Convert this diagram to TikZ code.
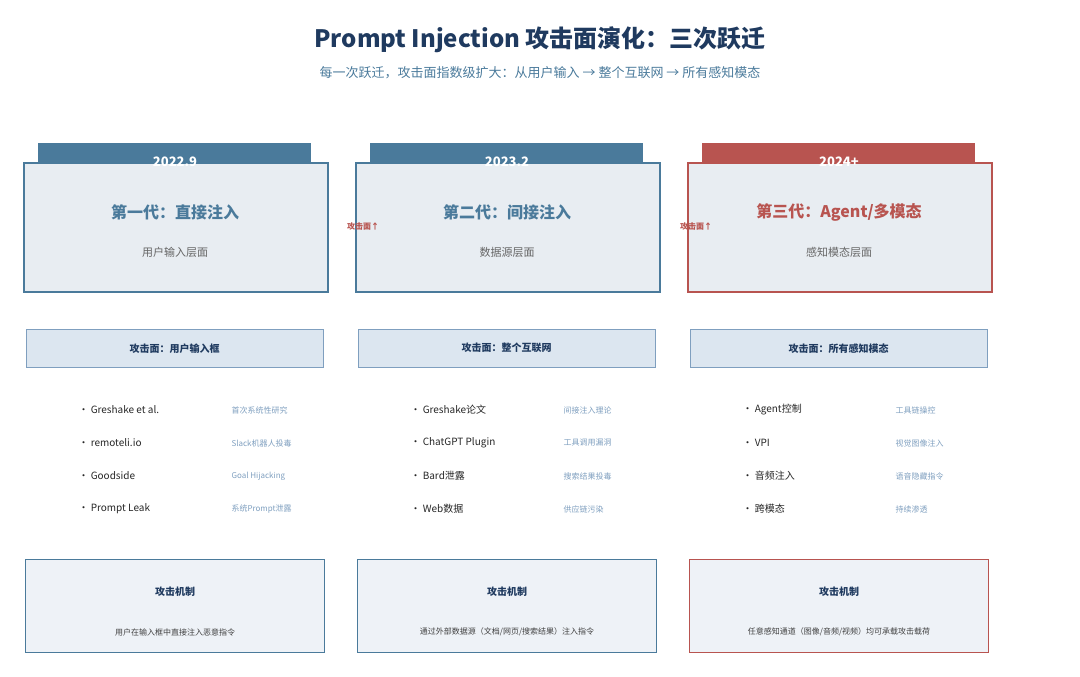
\documentclass[tikz,border=0pt]{standalone}
\usepackage{fontspec}
\setmainfont{Noto Sans CJK SC}
\usetikzlibrary{positioning}
\definecolor{navy}{HTML}{1F3A5F}
\definecolor{steel}{HTML}{4A7A9B}
\definecolor{brick}{HTML}{B85450}
\definecolor{pale}{HTML}{E8EDF2}
\definecolor{surf}{HTML}{DCE6F0}
\definecolor{surfline}{HTML}{7F9FBF}
\definecolor{mech}{HTML}{EEF2F7}
\definecolor{note}{HTML}{7F9FBF}
\tikzset{
  gen/.style={draw=#1, line width=1.5pt, fill=pale, minimum width=304pt, minimum height=129pt, anchor=north west},
  tab/.style={fill=#1, minimum width=273pt, minimum height=19pt, anchor=north west, inner sep=0pt},
  surface/.style={draw=surfline, fill=surf, minimum width=297pt, minimum height=38pt, anchor=north west, font=\fontsize{10}{12}\selectfont\bfseries, text=navy},
  mechbox/.style={draw=#1, fill=mech, minimum width=299pt, minimum height=93pt, anchor=north west},
  item/.style={anchor=west, font=\fontsize{10}{12}\selectfont, text=black!85},
  itemnote/.style={anchor=west, font=\fontsize{8}{10}\selectfont, text=note},
}
\begin{document}
\begin{tikzpicture}[x=1pt, y=-1pt]
  \useasboundingbox (0,0) rectangle (1080,677);
  % title
  \node[font=\fontsize{24}{28}\selectfont\bfseries, text=navy] (title) at (540,40) {Prompt Injection 攻击面演化：三次跃迁};
  \node[font=\fontsize{13}{16}\selectfont, text=steel] (subtitle) at (540,73) {每一次跃迁，攻击面指数级扩大：从用户输入 → 整个互联网 → 所有感知模态};
  % three generations
  \foreach \i/\x/\c/\yr/\name/\layer/\surf in {
      1/23/steel/2022.9/第一代：直接注入/用户输入层面/用户输入框,
      2/355/steel/2023.2/第二代：间接注入/数据源层面/整个互联网,
      3/687/brick/2024+/{第三代：Agent/多模态}/感知模态层面/所有感知模态} {
    \node[tab=\c] (tab\i) at (\x+15,143) {};
    \node[gen=\c] (gen\i) at (\x,162) {};
    \node[font=\fontsize{13}{15}\selectfont\bfseries, text=white] (year\i) at (\x+152,162) {\yr};
    \node[font=\fontsize{16}{19}\selectfont\bfseries, text=\c] (name\i) at (\x+152,212) {\name};
    \node[font=\fontsize{11}{13}\selectfont, text=black!60] (layer\i) at (\x+152,252) {\layer};
    \node[surface] (surf\i) at (\x+3,329) {攻击面：\surf};
  }
  % growth marks
  \node[font=\fontsize{8}{10}\selectfont\bfseries, text=brick] (up1) at (363,226) {攻击面↑};
  \node[font=\fontsize{8}{10}\selectfont\bfseries, text=brick] (up2) at (696,226) {攻击面↑};
  % cases
  \foreach \x/\a/\b/\c/\d/\na/\nb/\nc/\nd in {
      75/Greshake et al./remoteli.io/Goodside/Prompt Leak/首次系统性研究/Slack机器人投毒/Goal Hijacking/系统Prompt泄露,
      407/Greshake论文/ChatGPT Plugin/Bard泄露/Web数据/间接注入理论/工具调用漏洞/搜索结果投毒/供应链污染,
      739/Agent控制/VPI/音频注入/跨模态/工具链操控/视觉图像注入/语音隐藏指令/持续渗透} {
    \node[item] (ca\x) at (\x,410) {• \a};
    \node[item] (cb\x) at (\x,443) {• \b};
    \node[item] (cc\x) at (\x,476) {• \c};
    \node[item] (cd\x) at (\x,509) {• \d};
    \node[itemnote] (na\x) at (\x+153,410) {\na};
    \node[itemnote] (nb\x) at (\x+153,443) {\nb};
    \node[itemnote] (nc\x) at (\x+153,476) {\nc};
    \node[itemnote] (nd\x) at (\x+153,509) {\nd};
  }
  % mechanisms
  \foreach \i/\x/\c/\txt in {
      1/25/steel/用户在输入框中直接注入恶意指令,
      2/357/steel/{通过外部数据源（文档/网页/搜索结果）注入指令},
      3/689/brick/{任意感知通道（图像/音频/视频）均可承载攻击载荷}} {
    \node[mechbox=\c] (mech\i) at (\x,559) {};
    \node[font=\fontsize{10}{12}\selectfont\bfseries, text=navy] (mtitle\i) at (\x+150,592) {攻击机制};
    \node[font=\fontsize{8}{10}\selectfont, text=black!75] (mtext\i) at (\x+150,632) {\txt};
  }
\end{tikzpicture}
\end{document}
